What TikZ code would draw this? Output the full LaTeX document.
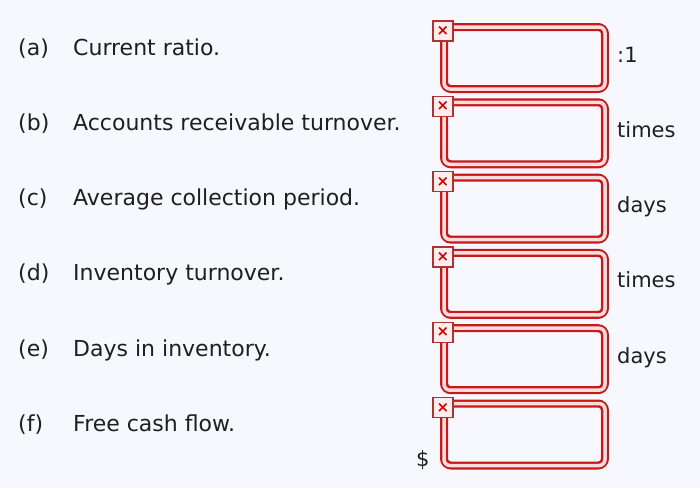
\documentclass[tikz,border=0pt]{standalone}
\usepackage{fontspec}
\setmainfont{DejaVu Sans}
\begin{document}
\begin{tikzpicture}[x=1pt,y=-1pt,
 lab/.style={anchor=base west,font=\fontsize{22}{26}\selectfont,text=black!88,inner sep=0pt},
 unit/.style={anchor=base west,font=\fontsize{21}{24}\selectfont,text=black!88,inner sep=0pt},
 badge/.style={draw=red!60!black!80,fill=pink!30,minimum size=20pt,inner sep=0pt,line width=1.2pt,text=red!80!black,font=\bfseries\fontsize{15}{15}\selectfont}]
\useasboundingbox (0,0) rectangle (700,488);
\fill[black!9!blue!3!white] (0,0) rectangle (700,488);
\foreach \l/\t/\u [count=\i from 0] in {a/Current ratio./{:1},b/Accounts receivable turnover./times,c/Average collection period./days,d/Inventory turnover./times,e/Days in inventory./days,f/Free cash flow./{}}{
  \pgfmathsetmacro{\yy}{27+75.3*\i}
  \node[lab] (P\i) at (18,\yy+28) {(\l)};
  \node[lab] (L\i) at (73,\yy+28) {\t};
  \draw[red!75!black!90,line width=8pt,rounded corners=7pt] (444,\yy) rectangle (605,\yy+62);
  \draw[pink!55,line width=3.5pt,rounded corners=6pt] (444,\yy) rectangle (605,\yy+62);
  \node[badge] (X\i) at (443,\yy+4) {×};
  \node[unit] (U\i) at (617,\yy+35) {\u};
}
\node[unit] (dollar) at (416,466) {\$};
\end{tikzpicture}
\end{document}
